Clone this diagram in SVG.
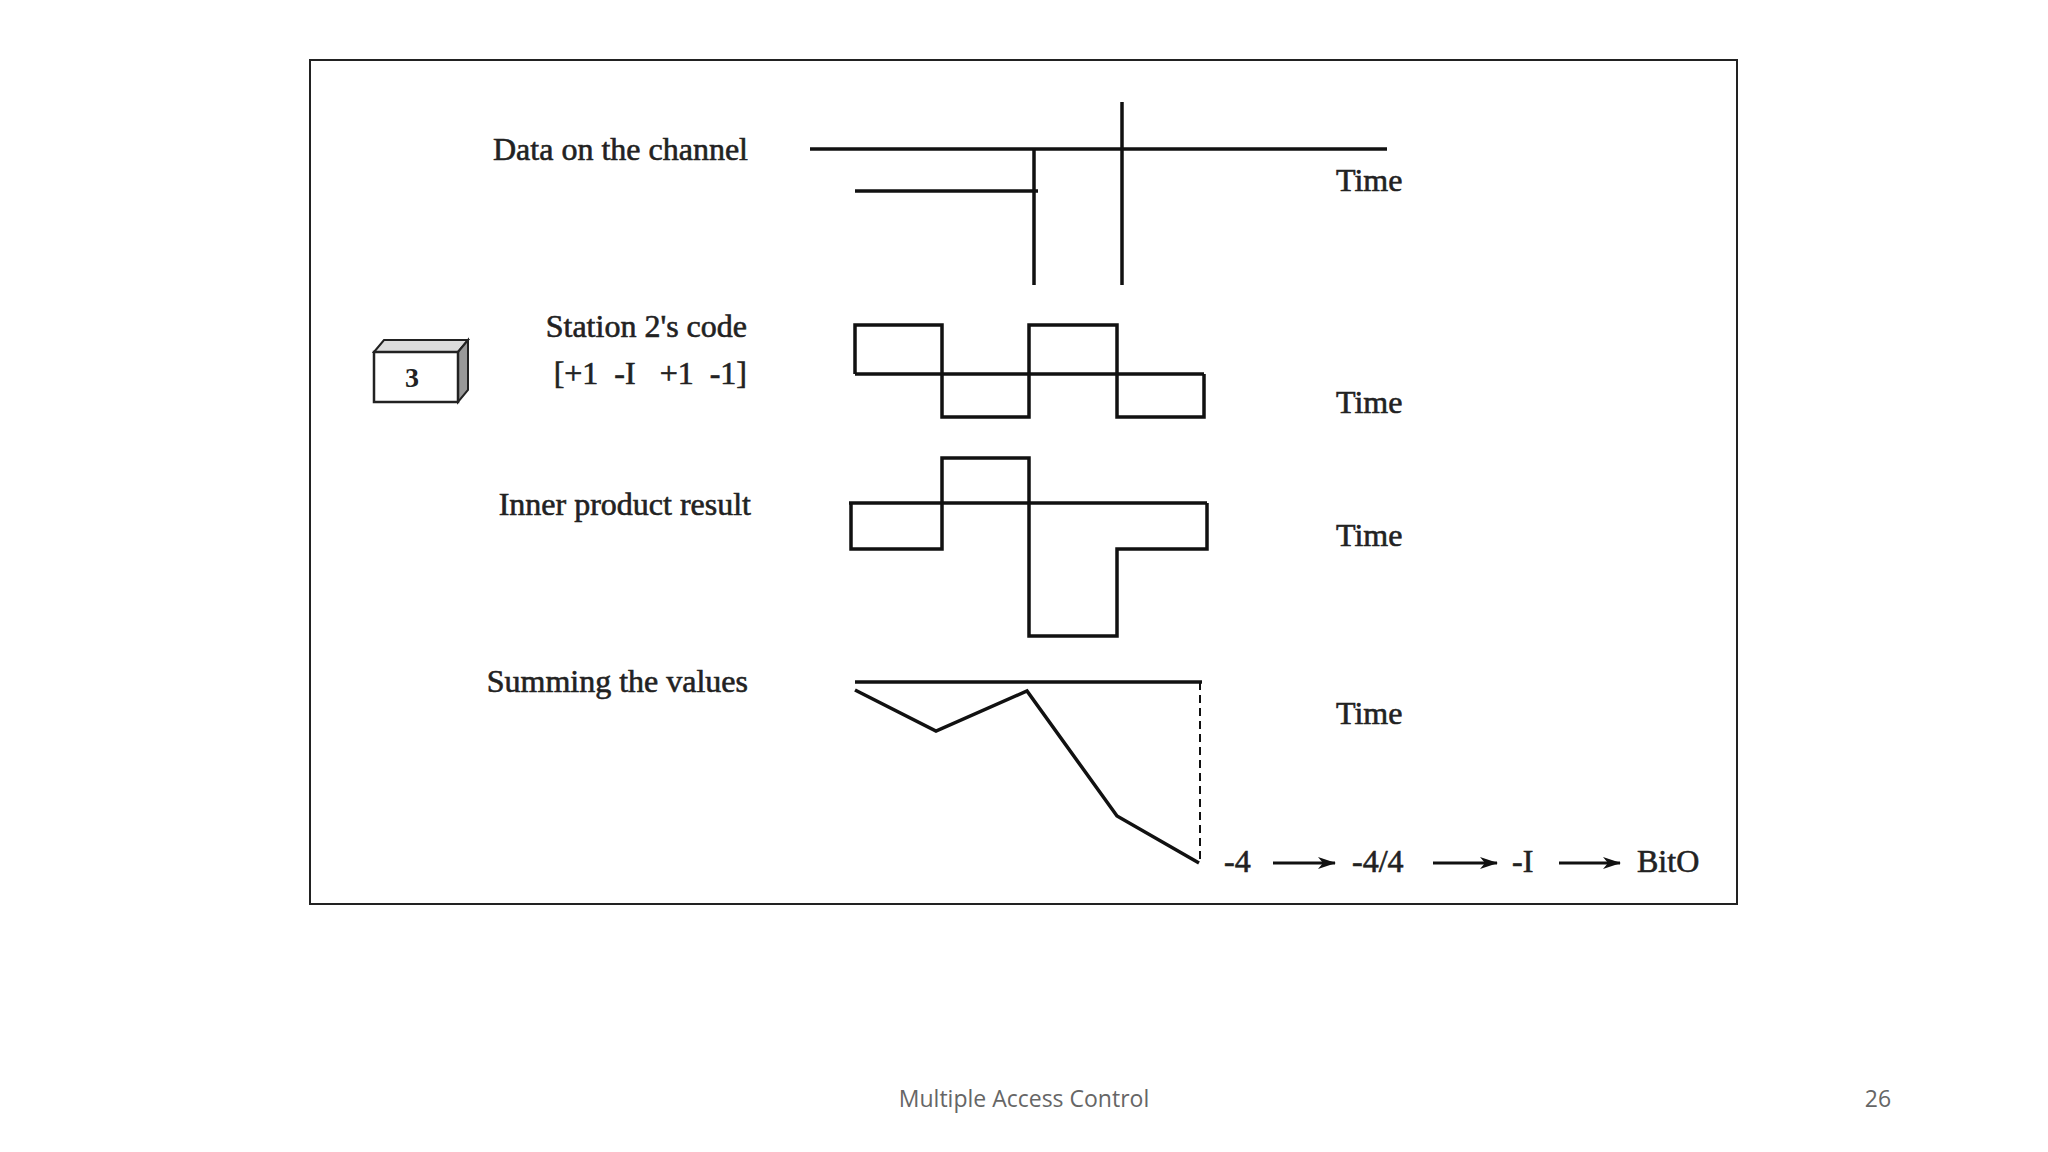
<svg xmlns="http://www.w3.org/2000/svg" width="2048" height="1152" viewBox="0 0 2048 1152">
<style>
.t{font-family:"Liberation Serif",serif;font-size:32px;fill:#222;stroke:#222;stroke-width:0.6}
.w{fill:none;stroke:#111;stroke-width:3.5}
.f{font-family:"Open Sans","Liberation Sans",sans-serif;font-size:23px;fill:#666}
</style>
<defs><marker id="ah" markerWidth="18" markerHeight="12" refX="17" refY="6" orient="auto" markerUnits="userSpaceOnUse"><path d="M0,0 L18,6 L0,12 L5,6 Z" fill="#111"/></marker></defs>
<rect width="2048" height="1152" fill="#fff"/>
<rect x="310" y="60" width="1427" height="844" fill="none" stroke="#222" stroke-width="2"/>
<g id="labels">
<text class="t" x="748" y="160" text-anchor="end">Data on the channel</text>
<text class="t" x="747" y="337" text-anchor="end">Station 2's code</text>
<text class="t" x="747" y="384" text-anchor="end" xml:space="preserve">[+1  -I   +1  -1]</text>
<text class="t" x="751" y="515" text-anchor="end">Inner product result</text>
<text class="t" x="748" y="692" text-anchor="end">Summing the values</text>
<text class="t" x="1336" y="191">Time</text>
<text class="t" x="1336" y="413">Time</text>
<text class="t" x="1336" y="546">Time</text>
<text class="t" x="1336" y="724">Time</text>
</g>
<g id="cube">
<polygon points="374,352 384,340 468,340 458,352" fill="#ddd" stroke="#222" stroke-width="2"/>
<polygon points="458,352 468,340 468,390 458,402" fill="#999" stroke="#222" stroke-width="2"/>
<rect x="374" y="352" width="84" height="50" fill="#fff" stroke="#222" stroke-width="2.5"/>
<text x="412" y="387" font-family="Liberation Serif,serif" font-size="28" font-weight="bold" text-anchor="middle" fill="#222">3</text>
</g>
<g id="channel">
<line class="w" x1="810" y1="149" x2="1387" y2="149"/>
<line class="w" x1="855" y1="191" x2="1038" y2="191" stroke-width="6"/>
<line class="w" x1="1034" y1="149" x2="1034" y2="285" stroke-width="5"/>
<line class="w" x1="1122" y1="102" x2="1122" y2="285"/>
</g>
<g id="code">
<line class="w" x1="855" y1="374" x2="1204" y2="374"/>
<path class="w" d="M855 374 V325 H942 V417 H1029 V325 H1117 V417 H1204 V374"/>
</g>
<g id="inner">
<line class="w" x1="849" y1="503" x2="1207" y2="503"/>
<path class="w" d="M851 503 V549 H942 V458 H1029 V636 H1117 V549 H1207 V503"/>
</g>
<g id="sum">
<line class="w" x1="855" y1="682" x2="1202" y2="682"/>
<polyline class="w" points="855,690 936,731 1027,691 1117,816 1199,863"/>
<line x1="1200" y1="682" x2="1200" y2="863" stroke="#111" stroke-width="2" stroke-dasharray="8,5"/>
</g>
<g id="result">
<text class="t" x="1224" y="872">-4</text>
<text class="t" x="1352" y="872">-4/4</text>
<text class="t" x="1512" y="872">-I</text>
<text class="t" x="1637" y="872">BitO</text>
</g>
<g id="connectors">
<line x1="1273" y1="863" x2="1335" y2="863" stroke="#111" stroke-width="3" marker-end="url(#ah)"/>
<line x1="1433" y1="863" x2="1497" y2="863" stroke="#111" stroke-width="3" marker-end="url(#ah)"/>
<line x1="1559" y1="863" x2="1620" y2="863" stroke="#111" stroke-width="3" marker-end="url(#ah)"/>
</g>
<text class="f" x="1024" y="1107" text-anchor="middle">Multiple Access Control</text>
<text class="f" x="1878" y="1107" text-anchor="middle">26</text>
</svg>
